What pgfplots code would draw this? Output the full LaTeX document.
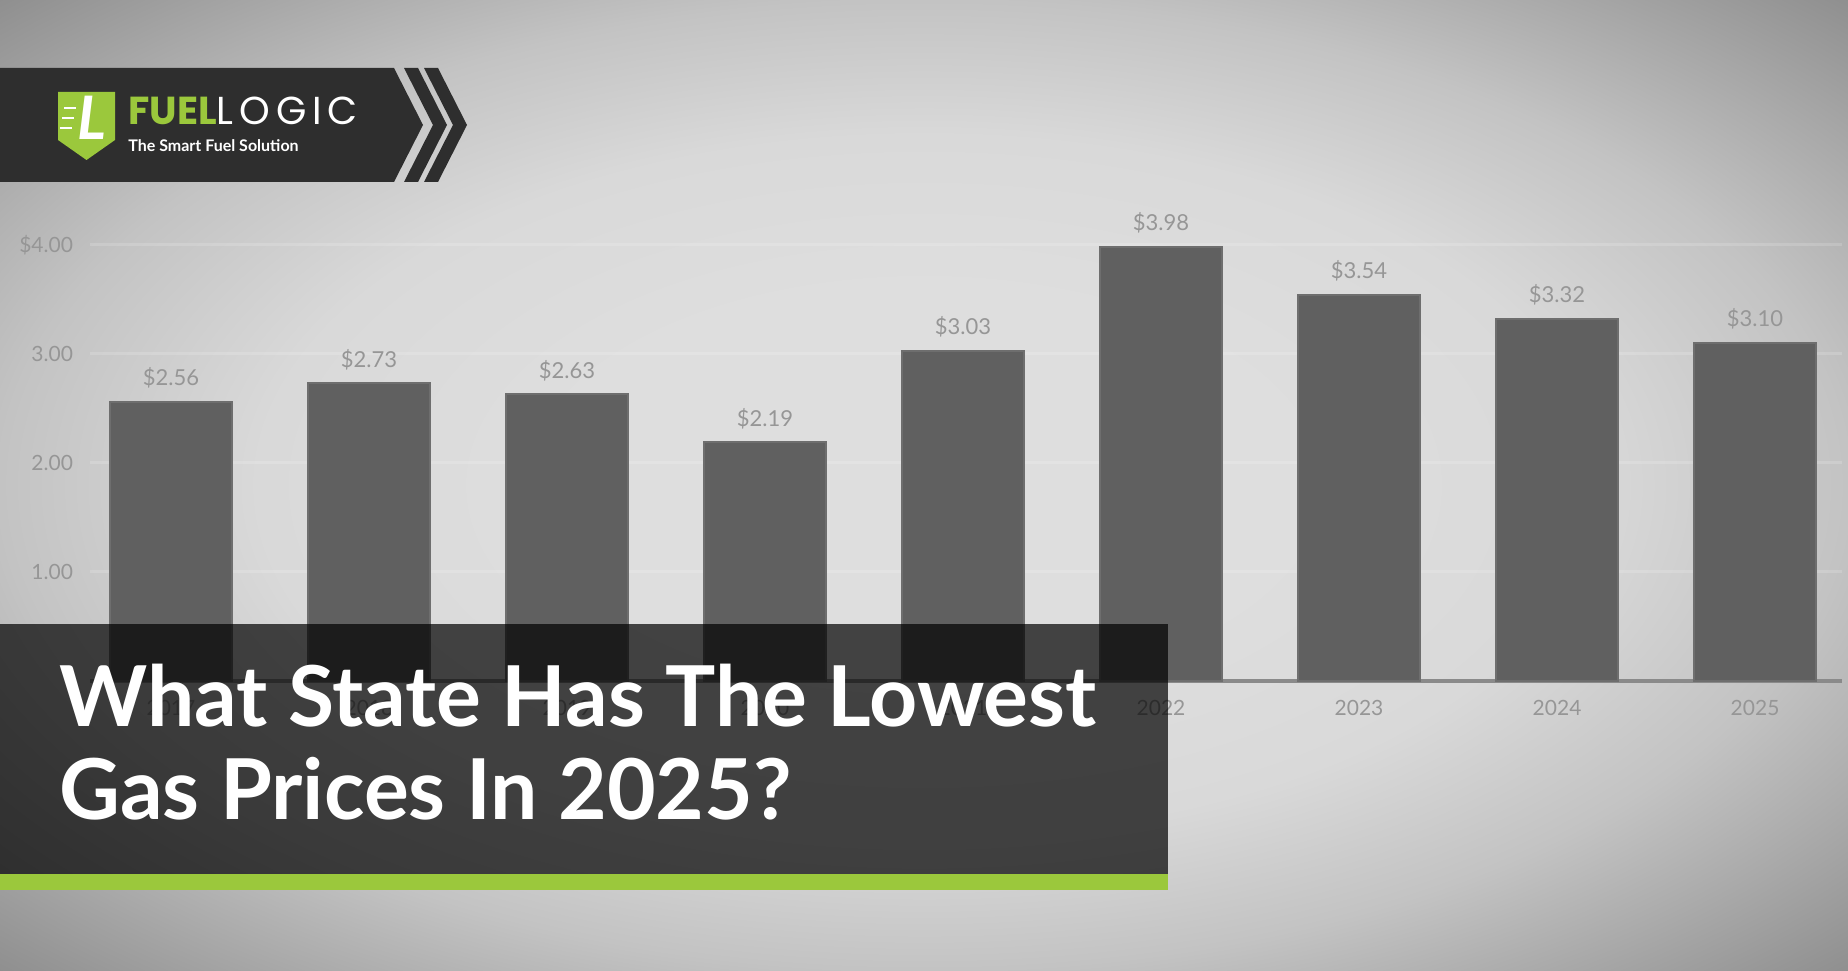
\documentclass[border=0pt]{standalone}
\usepackage{pgfplots}
\pgfplotsset{compat=1.18}
\usepackage{fontspec}
\setmainfont{Lato}
\newfontfamily\poppins{Poppins}

\definecolor{bgc}{RGB}{222,222,222}
\definecolor{bgmid}{RGB}{217,217,217}
\definecolor{bge}{RGB}{195,195,195}
\definecolor{bgk}{RGB}{140,140,140}
\definecolor{barc}{RGB}{96,96,96}
\definecolor{barline}{RGB}{110,110,110}
\definecolor{lblc}{RGB}{150,150,150}
\definecolor{basec}{RGB}{138,138,138}
\definecolor{bannerc}{RGB}{46,46,46}
\definecolor{fgreen}{RGB}{155,200,60}

\pgfdeclareradialshading{vign}{\pgfpoint{0bp}{0bp}}{color(0bp)=(bgc); color(10bp)=(bgc); color(18bp)=(bgmid); color(25bp)=(bge); color(36bp)=(bgk); color(50bp)=(bgk)}

\begin{document}
\begin{tikzpicture}[x=1pt,y=1pt]
\useasboundingbox (0,0) rectangle (924,485);
\shade[shading=vign] (0,0) rectangle (924,485);

\begin{axis}[
  at={(45pt,144.5pt)}, anchor=south west,
  scale only axis, width=876pt, height=239.8pt,
  xmin=-0.409, xmax=8.439, ymin=0, ymax=4.4,
  ybar, bar width=61pt, bar shift=0pt,
  xtick={0,1,2,3,4,5,6,7,8},
  xticklabels={2017,2018,2019,2020,2021,2022,2023,2024,2025},
  ytick={1,2,3,4}, yticklabels={1.00,2.00,3.00,\$4.00},
  /pgf/number format/assume math mode=true,
  axis x line=bottom, axis y line=left,
  x axis line style={draw=basec, line width=2pt, -},
  y axis line style={draw=none},
  major tick length=0pt,
  ymajorgrids, grid style={white, opacity=0.16, line width=1.5pt},
  tick label style={font=\fontsize{10.5}{12}\selectfont, text=lblc},
  xticklabel style={yshift=-6pt},
  yticklabel style={xshift=-5pt},
  nodes near coords={\$\pgfmathprintnumber[fixed,fixed zerofill,precision=2,assume math mode=true]{\pgfplotspointmeta}},
  every node near coord/.append style={font=\fontsize{11}{13}\selectfont, text=lblc, yshift=3pt},
  clip=false,
]
\addplot[fill=barc, draw=barline, line width=1pt] coordinates {
  (0,2.56) (1,2.73) (2,2.63) (3,2.19) (4,3.03)
  (5,3.98) (6,3.54) (7,3.32) (8,3.10)
};
\end{axis}

% title box
\fill[black, opacity=0.7] (0,48) rectangle (584,173);
\fill[fgreen] (0,40) rectangle (584,48);
\node[anchor=base west, inner sep=0, text=white, font=\fontsize{42}{46}\selectfont\bfseries] at (29.5,121.5) {What State Has The Lowest};
\node[anchor=base west, inner sep=0, text=white, font=\fontsize{42}{46}\selectfont\bfseries] at (29.5,75) {Gas Prices In 2025?};

% banner
\fill[bannerc] (0,451) -- (197,451) -- (211.5,422.5) -- (197,394) -- (0,394) -- cycle;
\fill[bannerc] (202,451) -- (209,451) -- (223.5,422.5) -- (209,394) -- (202,394) -- (216.5,422.5) -- cycle;
\fill[bannerc] (212,451) -- (219,451) -- (233.5,422.5) -- (219,394) -- (212,394) -- (226.5,422.5) -- cycle;
\fill[fgreen] (29,439) -- (57.5,439) -- (57.5,415) -- (43.25,405) -- (29,415) -- cycle;
\node[anchor=base, inner sep=0, text=white, font=\fontsize{30}{30}\selectfont\bfseries\itshape] at (46,415) {L};
\draw[white, line width=1pt] (32,431) -- (38,431) (31,426) -- (37,426) (30,421) -- (36,421);
\node[anchor=base west, inner sep=0, font=\poppins\fontsize{19.5}{20}\selectfont] at (64,422.5) {\textcolor{fgreen}{\bfseries FUEL}\textcolor{white}{\addfontfeature{LetterSpace=15}LOGIC}};
\node[anchor=base west, inner sep=0, text=white, font=\fontsize{8}{10}\selectfont\bfseries] at (64,409) {The Smart Fuel Solution};
\end{tikzpicture}
\end{document}
